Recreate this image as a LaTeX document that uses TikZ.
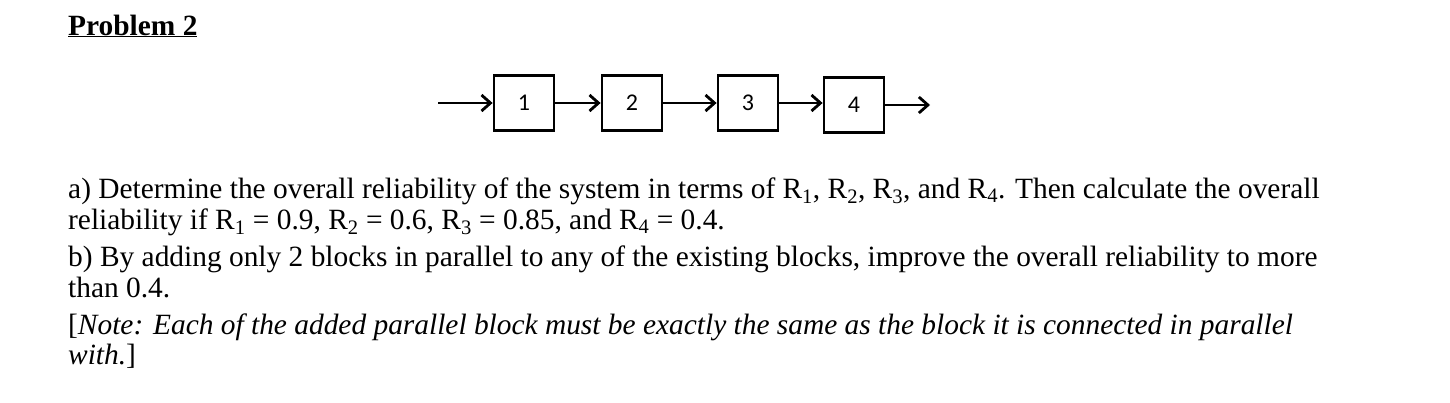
\documentclass[tikz,border=0pt]{standalone}
\usepackage{fontspec}
\setmainfont{Liberation Serif}
\newfontfamily\calib{Carlito}
\usetikzlibrary{arrows.meta}
\begin{document}
\begin{tikzpicture}[x=1pt,y=-1pt,
  blk/.style={draw,line width=2.8pt,minimum width=60pt,minimum height=55pt,inner sep=0pt,font=\calib\fontsize{24}{24}\selectfont},
  arr/.style={line width=2.8pt,-{Straight Barb[length=9pt,width=16pt,line width=2.8pt]}},
  txt/.style={anchor=base west,inner sep=0pt,font=\fontsize{29.4}{34}\selectfont}]
\useasboundingbox (0,0) rectangle (1450,402);
\node[txt] (title) at (68,35) {\textbf{\underline{Problem 2}}};
\coordinate (in) at (438,103);
\node[blk] (b1) at (524,103) {1};
\node[blk] (b2) at (632,103) {2};
\node[blk] (b3) at (748,103) {3};
\node[blk] (b4) at (854,105) {4};
\coordinate (out) at (930,105);
\draw[arr] (in) -- (b1);
\draw[arr] (b1) -- (b2);
\draw[arr] (b2) -- (b3);
\draw[arr] (b3.east) -- (b4.west|-b3.east);
\draw[arr] (b4) -- (out);
\node[txt] (l1) at (68,198) {a) Determine the overall reliability of the system in terms of R\textsubscript{1}, R\textsubscript{2}, R\textsubscript{3}, and R\textsubscript{4}. Then calculate the overall};
\node[txt] (l2) at (68,229) {reliability if R\textsubscript{1} = 0.9, R\textsubscript{2} = 0.6, R\textsubscript{3} = 0.85, and R\textsubscript{4} = 0.4.};
\node[txt] (l3) at (68,266) {b) By adding only 2 blocks in parallel to any of the existing blocks, improve the overall reliability to more};
\node[txt] (l4) at (68,297) {than 0.4.};
\node[txt] (l5) at (68,334) {[\textit{Note: Each of the added parallel block must be exactly the same as the block it is connected in parallel}};
\node[txt] (l6) at (68,364) {\textit{with.}]};
\end{tikzpicture}
\end{document}
